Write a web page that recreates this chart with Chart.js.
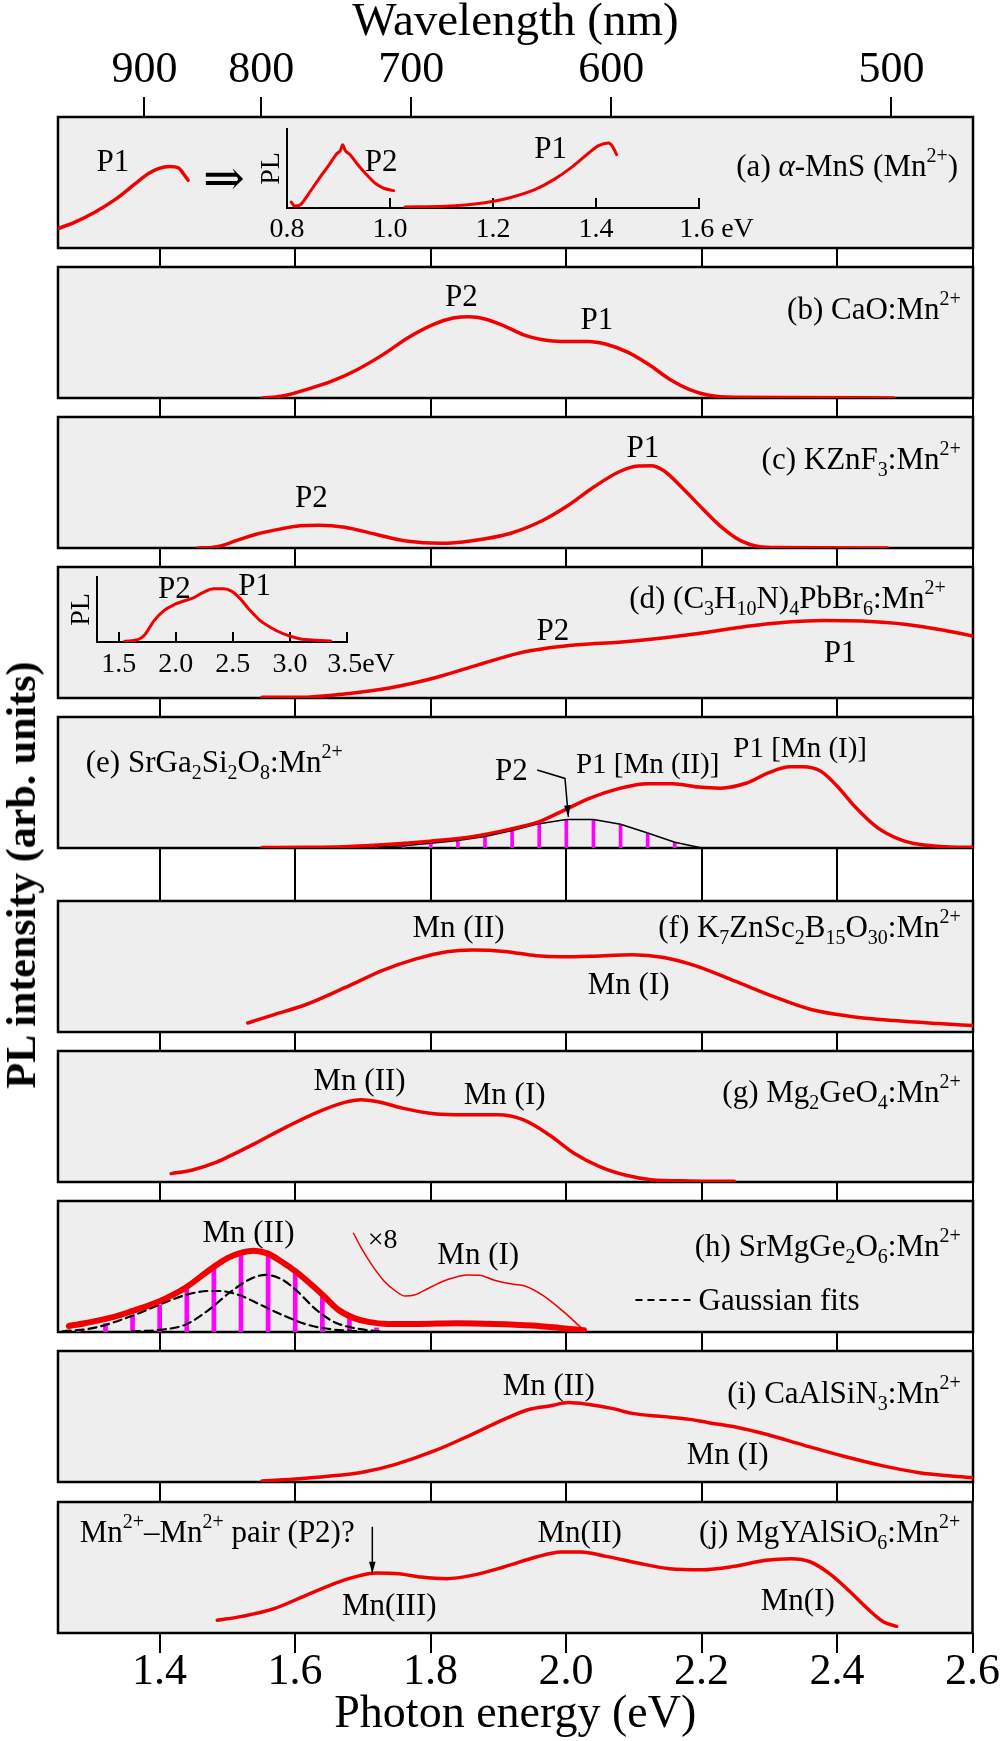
<!DOCTYPE html>
<html>
<head>
<meta charset="utf-8">
<script src="https://cdn.jsdelivr.net/npm/chart.js@4.4.0/dist/chart.umd.min.js"></script>
<style>
  body { margin: 0; background: #fff; width: 1000px; height: 1741px; position: relative; overflow: hidden; }
  canvas { position: absolute; }
  #ytitle { position: absolute; left: 21px; top: 875px; white-space: nowrap;
            font: bold 42px "Liberation Serif", serif; color: #000;
            transform: translate(-50%, -50%) rotate(-90deg); }
</style>
</head>
<body>
<script>
const SERIF = '"Liberation Serif", "DejaVu Serif", serif';
const RED = '#f20000';

// axes
const energyTicks = [1.4, 1.6, 1.8, 2.0, 2.2, 2.4, 2.6];
const energyTickLabels = ['1.4', '1.6', '1.8', '2.0', '2.2', '2.4', '2.6'];
const wavelengthTicks = [900, 800, 700, 600, 500];
const aInsetTicks = [0.8, 1.0, 1.2, 1.4, 1.6];
const aInsetTickLabels = ['0.8', '1.0', '1.2', '1.4', '     1.6 eV'];
const dInsetTicks = [1.5, 2.0, 2.5, 3.0, 3.5];
const dInsetTickLabels = ['1.5', '2.0', '2.5', '3.0', '    3.5eV'];

// (a) alpha-MnS
const aE = [1.250, 1.275, 1.305, 1.334, 1.364, 1.383, 1.398, 1.415, 1.428, 1.435, 1.442];
const aI = [0.148, 0.198, 0.275, 0.369, 0.491, 0.567, 0.606, 0.623, 0.611, 0.567, 0.517];
const aInsP2E = [0.808, 0.815, 0.826, 0.842, 0.862, 0.881, 0.897, 0.904, 0.908, 0.913, 0.923, 0.936, 0.952, 0.972, 0.988, 1.007];
const aInsP2I = [0.076, 0.025, 0.042, 0.18, 0.37, 0.54, 0.69, 0.73, 0.80, 0.73, 0.67, 0.56, 0.44, 0.31, 0.25, 0.22];
const aInsP1E = [1.029, 1.107, 1.181, 1.231, 1.281, 1.318, 1.355, 1.386, 1.405, 1.424, 1.432, 1.440];
const aInsP1I = [0.013, 0.021, 0.063, 0.127, 0.232, 0.359, 0.527, 0.696, 0.789, 0.823, 0.781, 0.675];

// (b) CaO
const bE = [1.551, 1.579, 1.616, 1.654, 1.692, 1.730, 1.767, 1.805, 1.833, 1.857, 1.880, 1.908, 1.937, 1.965, 1.993, 2.031, 2.059, 2.092, 2.125, 2.153, 2.182, 2.210, 2.248, 2.342, 2.483];
const bI = [0, 0.013, 0.064, 0.128, 0.218, 0.333, 0.462, 0.564, 0.61, 0.621, 0.603, 0.551, 0.482, 0.444, 0.431, 0.431, 0.41, 0.346, 0.244, 0.141, 0.064, 0.021, 0.005, 0.003, 0];

// (c) KZnF3
const cE = [1.456, 1.485, 1.513, 1.541, 1.579, 1.607, 1.635, 1.673, 1.720, 1.767, 1.814, 1.861, 1.918, 1.965, 2.003, 2.041, 2.078, 2.106, 2.125, 2.144, 2.172, 2.201, 2.229, 2.257, 2.285, 2.314, 2.474];
const cI = [0, 0.01, 0.056, 0.103, 0.146, 0.169, 0.174, 0.159, 0.103, 0.051, 0.036, 0.056, 0.113, 0.21, 0.326, 0.467, 0.582, 0.626, 0.628, 0.59, 0.454, 0.3, 0.159, 0.056, 0.01, 0.003, 0];

// (d) (C3H10N)4PbBr6
const dE = [1.551, 1.607, 1.673, 1.739, 1.805, 1.871, 1.927, 1.975, 2.022, 2.078, 2.135, 2.200, 2.267, 2.323, 2.380, 2.436, 2.502, 2.559, 2.601];
const dI = [0.005, 0.005, 0.031, 0.077, 0.153, 0.255, 0.339, 0.383, 0.408, 0.426, 0.454, 0.497, 0.548, 0.579, 0.592, 0.587, 0.561, 0.515, 0.472];
const dInsE = [1.552, 1.668, 1.725, 1.812, 1.899, 1.986, 2.072, 2.159, 2.246, 2.332, 2.419, 2.491, 2.564, 2.650, 2.737, 2.824, 2.939, 3.084, 3.228, 3.358];
const dInsI = [0.01, 0.036, 0.103, 0.333, 0.487, 0.574, 0.631, 0.682, 0.769, 0.82, 0.82, 0.779, 0.667, 0.487, 0.333, 0.231, 0.128, 0.051, 0.026, 0.015];

// (e) SrGa2Si2O8
const eE = [1.551, 1.607, 1.671, 1.735, 1.799, 1.863, 1.914, 1.959, 1.997, 2.035, 2.080, 2.119, 2.157, 2.195, 2.227, 2.266, 2.298, 2.330, 2.349, 2.375, 2.400, 2.426, 2.458, 2.490, 2.522, 2.560, 2.598];
const eI = [0.003, 0.005, 0.01, 0.026, 0.052, 0.088, 0.14, 0.199, 0.289, 0.38, 0.457, 0.491, 0.491, 0.465, 0.457, 0.496, 0.574, 0.62, 0.62, 0.587, 0.47, 0.315, 0.16, 0.07, 0.026, 0.01, 0.005];
const eBarE = [1.72, 1.76, 1.80, 1.84, 1.88, 1.92, 1.96, 2.00, 2.04, 2.08, 2.12, 2.16];
const eBarI = [0.01, 0.018, 0.036, 0.057, 0.088, 0.134, 0.186, 0.217, 0.217, 0.181, 0.114, 0.044];
const eFitE = [1.68, 1.72, 1.76, 1.80, 1.84, 1.88, 1.92, 1.96, 2.00, 2.04, 2.08, 2.12, 2.16, 2.20];
const eFitI = [0, 0.01, 0.018, 0.036, 0.057, 0.088, 0.134, 0.186, 0.217, 0.217, 0.181, 0.114, 0.044, 0];

// (f) K7ZnSc2B15O30
const fE = [1.530, 1.569, 1.616, 1.673, 1.730, 1.777, 1.824, 1.861, 1.909, 1.956, 1.993, 2.040, 2.097, 2.144, 2.191, 2.248, 2.304, 2.361, 2.417, 2.483, 2.549, 2.601];
const fI = [0.069, 0.133, 0.21, 0.338, 0.472, 0.556, 0.613, 0.626, 0.615, 0.582, 0.574, 0.579, 0.59, 0.569, 0.505, 0.39, 0.274, 0.172, 0.121, 0.087, 0.064, 0.049];

// (g) Mg2GeO4
const gE = [1.417, 1.447, 1.485, 1.503, 1.541, 1.588, 1.635, 1.673, 1.697, 1.720, 1.758, 1.805, 1.852, 1.899, 1.937, 1.975, 2.012, 2.050, 2.088, 2.125, 2.182, 2.248];
const gI = [0.064, 0.09, 0.154, 0.197, 0.295, 0.423, 0.538, 0.608, 0.628, 0.615, 0.564, 0.521, 0.513, 0.513, 0.474, 0.359, 0.218, 0.115, 0.051, 0.018, 0.008, 0.005];

// (h) SrMgGe2O6
const hE = [1.266, 1.291, 1.331, 1.359, 1.398, 1.438, 1.477, 1.500, 1.522, 1.539, 1.559, 1.579, 1.601, 1.624, 1.641, 1.663, 1.686, 1.708, 1.736, 1.781, 1.838, 1.894, 1.950, 1.990, 2.026];
const hI = [0.046, 0.069, 0.113, 0.159, 0.231, 0.338, 0.487, 0.564, 0.608, 0.621, 0.6, 0.54, 0.46, 0.36, 0.28, 0.172, 0.108, 0.077, 0.062, 0.062, 0.067, 0.062, 0.049, 0.031, 0.013];
const h8E = [1.686, 1.697, 1.714, 1.731, 1.748, 1.762, 1.776, 1.798, 1.826, 1.855, 1.872, 1.894, 1.922, 1.939, 1.967, 1.995, 2.026];
const h8I = [0.754, 0.646, 0.505, 0.39, 0.313, 0.274, 0.282, 0.338, 0.403, 0.436, 0.433, 0.395, 0.364, 0.351, 0.274, 0.159, 0.013];
const hG1E = [1.257, 1.303, 1.359, 1.398, 1.438, 1.472, 1.488, 1.517, 1.550, 1.584, 1.618, 1.652, 1.697];
const hG1I = [0.005, 0.031, 0.123, 0.205, 0.282, 0.313, 0.313, 0.282, 0.205, 0.123, 0.056, 0.021, 0.005];
const hG2E = [1.359, 1.404, 1.438, 1.472, 1.505, 1.534, 1.556, 1.579, 1.601, 1.629, 1.657, 1.691, 1.725];
const hG2I = [0.005, 0.018, 0.056, 0.167, 0.308, 0.405, 0.436, 0.405, 0.321, 0.179, 0.077, 0.026, 0.005];
const hBarE = [1.28, 1.32, 1.36, 1.40, 1.44, 1.48, 1.52, 1.56, 1.60, 1.64, 1.68, 1.72];
const hBarI = [0.01, 0.064, 0.128, 0.205, 0.354, 0.497, 0.595, 0.595, 0.479, 0.292, 0.128, 0.031];

// (i) CaAlSiN3
const iE = [1.551, 1.607, 1.664, 1.701, 1.748, 1.805, 1.861, 1.908, 1.946, 1.975, 2.003, 2.031, 2.069, 2.097, 2.144, 2.182, 2.210, 2.248, 2.295, 2.351, 2.408, 2.464, 2.521, 2.568, 2.601];
const iI = [0.008, 0.025, 0.051, 0.076, 0.135, 0.237, 0.364, 0.478, 0.555, 0.58, 0.606, 0.593, 0.56, 0.524, 0.499, 0.478, 0.453, 0.422, 0.364, 0.28, 0.198, 0.127, 0.071, 0.046, 0.033];

// (j) MgYAlSiO6
const jE = [1.485, 1.522, 1.569, 1.616, 1.664, 1.697, 1.720, 1.753, 1.786, 1.824, 1.861, 1.908, 1.956, 1.993, 2.022, 2.059, 2.106, 2.153, 2.201, 2.248, 2.295, 2.332, 2.361, 2.389, 2.417, 2.445, 2.469, 2.488];
const jI = [0.097, 0.127, 0.186, 0.288, 0.389, 0.44, 0.458, 0.453, 0.427, 0.415, 0.44, 0.504, 0.58, 0.618, 0.618, 0.585, 0.534, 0.491, 0.483, 0.509, 0.555, 0.567, 0.542, 0.453, 0.326, 0.186, 0.084, 0.051];

const PANEL_H = 131;

Chart.defaults.font.family = SERIF;
Chart.defaults.color = '#000';

function pts(E, I) {
  return E.map(function (e, k) { return { x: e, y: I[k] }; });
}

function line(E, I, w, extra) {
  return Object.assign({
    type: 'line', data: pts(E, I), borderColor: RED, borderWidth: w || 3.5,
    pointRadius: 0, fill: false, cubicInterpolationMode: 'monotone',
    borderCapStyle: 'round', borderJoinStyle: 'round'
  }, extra || {});
}

function bars(E, I, w) {
  return { type: 'bar', data: pts(E, I), backgroundColor: '#ff00ff', borderWidth: 0,
           barThickness: w, grouped: false };
}

// text with ^{sup}, _{sub} and *italic*
function parseRich(s) {
  const parts = [];
  const re = /\^\{([^}]*)\}|_\{([^}]*)\}|\*([^*]*)\*/g;
  let last = 0, m;
  while ((m = re.exec(s))) {
    if (m.index > last) parts.push({ t: s.slice(last, m.index), k: 'n' });
    if (m[1] !== undefined) parts.push({ t: m[1], k: 'sup' });
    else if (m[2] !== undefined) parts.push({ t: m[2], k: 'sub' });
    else parts.push({ t: m[3], k: 'i' });
    last = re.lastIndex;
  }
  if (last < s.length) parts.push({ t: s.slice(last), k: 'n' });
  return parts;
}

function drawRich(ctx, s, x, y, align, size) {
  const parts = parseRich(s);
  const fontOf = function (k) {
    const sz = (k === 'sup' || k === 'sub') ? Math.round(size * 0.64) : size;
    return (k === 'i' ? 'italic ' : '') + sz + 'px ' + SERIF;
  };
  let w = 0;
  parts.forEach(function (p) { ctx.font = fontOf(p.k); p.w = ctx.measureText(p.t).width; w += p.w; });
  let cx = align === 'right' ? x - w : (align === 'center' ? x - w / 2 : x);
  const base = y + size * 0.33;
  ctx.textAlign = 'left';
  ctx.textBaseline = 'alphabetic';
  ctx.fillStyle = '#000';
  parts.forEach(function (p) {
    ctx.font = fontOf(p.k);
    const dy = p.k === 'sup' ? -size * 0.45 : (p.k === 'sub' ? size * 0.22 : 0);
    ctx.fillText(p.t, cx, base + dy);
    cx += p.w;
  });
}

// grey box, frame, labels and arrows of each panel
const panelDeco = {
  id: 'panelDeco',
  beforeDraw: function (chart, args, opts) {
    if (!opts.box) return;
    const a = chart.chartArea, ctx = chart.ctx;
    ctx.save();
    ctx.fillStyle = '#eeeeee';
    ctx.fillRect(a.left, a.top, a.right - a.left, a.bottom - a.top);
    ctx.restore();
  },
  beforeDatasetsDraw: function (chart, args, opts) {
    if (!opts.box) return;
    const a = chart.chartArea, ctx = chart.ctx;
    ctx.save();
    ctx.strokeStyle = '#000';
    ctx.lineWidth = 2.5;
    ctx.strokeRect(a.left, a.top, a.right - a.left, a.bottom - a.top);
    ctx.restore();
  },
  afterDraw: function (chart, args, opts) {
    const ctx = chart.ctx, sx = chart.scales.x, sy = chart.scales.y;
    ctx.save();
    (opts.arrows || []).forEach(function (path) {
      const p = path.map(function (q) { return [sx.getPixelForValue(q[0]), sy.getPixelForValue(q[1])]; });
      ctx.strokeStyle = '#000';
      ctx.lineWidth = 1.5;
      ctx.beginPath();
      p.forEach(function (q, k) { if (k) ctx.lineTo(q[0], q[1]); else ctx.moveTo(q[0], q[1]); });
      ctx.stroke();
      const p1 = p[p.length - 2], p2 = p[p.length - 1];
      const ang = Math.atan2(p2[1] - p1[1], p2[0] - p1[0]);
      ctx.beginPath();
      ctx.moveTo(p2[0], p2[1]);
      ctx.lineTo(p2[0] - 12 * Math.cos(ang - 0.28), p2[1] - 12 * Math.sin(ang - 0.28));
      ctx.lineTo(p2[0] - 12 * Math.cos(ang + 0.28), p2[1] - 12 * Math.sin(ang + 0.28));
      ctx.closePath();
      ctx.fillStyle = '#000';
      ctx.fill();
    });
    if (opts.key) {
      const k = opts.key, y = sy.getPixelForValue(k.y);
      ctx.strokeStyle = '#000';
      ctx.lineWidth = 2;
      ctx.setLineDash([7, 5]);
      ctx.beginPath();
      ctx.moveTo(sx.getPixelForValue(k.x1), y);
      ctx.lineTo(sx.getPixelForValue(k.x2), y);
      ctx.stroke();
      ctx.setLineDash([]);
      drawRich(ctx, k.text, sx.getPixelForValue(k.tx), y, 'left', 31);
    }
    (opts.labels || []).forEach(function (l) {
      drawRich(ctx, l.t, sx.getPixelForValue(l.x), sy.getPixelForValue(l.y), l.align || 'center', l.size || 31);
    });
    ctx.restore();
  }
};
Chart.register(panelDeco);

function addCanvas(left, top, w, h) {
  const cv = document.createElement('canvas');
  cv.width = w; cv.height = h;
  cv.style.left = left + 'px';
  cv.style.top = top + 'px';
  document.body.appendChild(cv);
  return cv;
}

function panel(p) {
  const topH = p.first ? 117 : p.tt;
  const botH = p.last ? 108 : p.bt;
  const cv = addCanvas(0, p.top - topH, 1000, topH + PANEL_H + botH);
  new Chart(cv, {
    type: 'line',
    data: { datasets: p.ds },
    options: {
      responsive: false, animation: false, devicePixelRatio: 1, events: [],
      layout: { padding: { left: 58, right: 27, top: 0, bottom: 0 } },
      plugins: { legend: { display: false }, tooltip: { enabled: false },
                 panelDeco: Object.assign({ box: true }, p.deco) },
      scales: {
        x: {
          type: 'linear', position: 'bottom', min: 1.25, max: 2.6, offset: false,
          afterBuildTicks: function (ax) { ax.ticks = energyTicks.map(function (v) { return { value: v }; }); },
          afterFit: function (ax) { ax.height = botH; },
          ticks: { display: !!p.last, autoSkip: false, maxRotation: 0, padding: 0,
                   font: { size: 44, lineHeight: 0.9 }, color: '#000',
                   callback: function (v, k) { return energyTickLabels[k]; } },
          grid: { drawOnChartArea: false, drawTicks: true, offset: false,
                  tickLength: p.last ? 20 : p.bt, color: '#000', lineWidth: 2 },
          border: { display: false },
          title: { display: !!p.last, text: 'Photon energy (eV)', color: '#000',
                   font: { size: 46, lineHeight: 1.13 }, padding: 0 }
        },
        x2: {
          type: 'linear', position: 'top', min: 1.25, max: 2.6, offset: false,
          afterBuildTicks: function (ax) {
            ax.ticks = p.first
              ? wavelengthTicks.map(function (w) { return { value: 1239.84 / w }; })
              : energyTicks.map(function (v) { return { value: v }; });
          },
          afterFit: function (ax) { ax.height = topH; },
          ticks: { display: !!p.first, autoSkip: false, maxRotation: 0, padding: 0,
                   font: { size: 44, lineHeight: 1.2 }, color: '#000',
                   callback: function (v, k) { return String(wavelengthTicks[k]); } },
          grid: { drawOnChartArea: false, drawTicks: true, offset: false,
                  tickLength: p.first ? 20 : p.tt, color: '#000', lineWidth: 2 },
          border: { display: false },
          title: { display: !!p.first, text: 'Wavelength (nm)', color: '#000',
                   font: { size: 47, lineHeight: 0.98 }, padding: 0 }
        },
        y: { display: false, min: 0, max: 1 }
      }
    }
  });
}

// small inset axes; right padding leaves room for the "eV" label
function inset(q) {
  const cv = addCanvas(q.left, q.top, q.w + 110, q.h);
  new Chart(cv, {
    type: 'line',
    data: { datasets: q.ds },
    options: {
      responsive: false, animation: false, devicePixelRatio: 1, events: [],
      layout: { padding: { left: 0, right: 110, top: 8, bottom: 0 } },
      plugins: { legend: { display: false }, tooltip: { enabled: false },
                 panelDeco: { box: false, labels: q.labels } },
      scales: {
        x: {
          type: 'linear', position: 'bottom', min: q.min, max: q.max, offset: false,
          afterBuildTicks: function (ax) { ax.ticks = q.ticks.map(function (v) { return { value: v }; }); },
          afterFit: function (ax) { ax.height = 45; },
          ticks: { autoSkip: false, maxRotation: 0, padding: q.pad, font: { size: 28, lineHeight: 1.2 },
                   color: '#000', callback: function (v, k) { return q.tickLabels[k]; } },
          grid: { drawOnChartArea: false, drawTicks: true, tickLength: -10, color: '#000', lineWidth: 2 },
          border: { display: true, color: '#000', width: 2 }
        },
        y: {
          min: 0, max: 1,
          afterFit: function (ax) { ax.width = 40; },
          ticks: { display: false },
          grid: { drawOnChartArea: false, drawTicks: false },
          border: { display: true, color: '#000', width: 2 },
          title: { display: true, text: 'PL', color: '#000', font: { size: 28, lineHeight: 1.2 },
                   padding: { top: 8, bottom: 0 } }
        }
      }
    }
  });
}

const RIGHT = 2.582;

panel({ top: 117, tt: 20, bt: 10, first: true,
  ds: [line(aE, aI)],
  deco: { labels: [
    { t: 'P1', x: 1.331, y: 0.664 },
    { t: '\u21d2', x: 1.495, y: 0.534, size: 50 },
    { t: '(a) *\u03b1*-MnS (Mn^{2+})', x: 2.578, y: 0.626, align: 'right' }
  ] } });

panel({ top: 267, tt: 10, bt: 10,
  ds: [line(bE, bI)],
  deco: { labels: [
    { t: 'P2', x: 1.845, y: 0.779 },
    { t: 'P1', x: 2.045, y: 0.603 },
    { t: '(b) CaO:Mn^{2+}', x: RIGHT, y: 0.679, align: 'right' }
  ] } });

panel({ top: 417, tt: 10, bt: 10,
  ds: [line(cE, cI)],
  deco: { labels: [
    { t: 'P2', x: 1.624, y: 0.389 },
    { t: 'P1', x: 2.113, y: 0.771 },
    { t: '(c) KZnF_{3}:Mn^{2+}', x: RIGHT, y: 0.679, align: 'right' }
  ] } });

panel({ top: 567, tt: 10, bt: 10,
  ds: [line(dE, dI)],
  deco: { labels: [
    { t: 'P2', x: 1.980, y: 0.519 },
    { t: 'P1', x: 2.404, y: 0.351 },
    { t: '(d) (C_{3}H_{10}N)_{4}PbBr_{6}:Mn^{2+}', x: 2.560, y: 0.763, align: 'right' }
  ] } });

panel({ top: 717, tt: 10, bt: 27,
  ds: [line(eE, eI),
       line(eFitE, eFitI, 1.5, { borderColor: '#000', cubicInterpolationMode: 'default', tension: 0 }),
       bars(eBarE, eBarI, 3)],
  deco: {
    labels: [
      { t: '(e) SrGa_{2}Si_{2}O_{8}:Mn^{2+}', x: 1.291, y: 0.656, align: 'left' },
      { t: 'P2', x: 1.919, y: 0.595 },
      { t: 'P1 [Mn (II)]', x: 2.120, y: 0.649, size: 29 },
      { t: 'P1 [Mn (I)]', x: 2.345, y: 0.771, size: 29 }
    ],
    arrows: [[[1.957, 0.595], [1.998, 0.531], [2.003, 0.238]]]
  } });

panel({ top: 901, tt: 27, bt: 10,
  ds: [line(fE, fI)],
  deco: { labels: [
    { t: 'Mn (II)', x: 1.841, y: 0.802 },
    { t: 'Mn (I)', x: 2.092, y: 0.366 },
    { t: '(f) K_{7}ZnSc_{2}B_{15}O_{30}:Mn^{2+}', x: RIGHT, y: 0.802, align: 'right' }
  ] } });

panel({ top: 1051, tt: 10, bt: 10,
  ds: [line(gE, gI)],
  deco: { labels: [
    { t: 'Mn (II)', x: 1.695, y: 0.779 },
    { t: 'Mn (I)', x: 1.909, y: 0.672 },
    { t: '(g) Mg_{2}GeO_{4}:Mn^{2+}', x: RIGHT, y: 0.687, align: 'right' }
  ] } });

panel({ top: 1201, tt: 10, bt: 10,
  ds: [line(hE, hI, 6),
       line(h8E, h8I, 1.5),
       line(hG1E, hG1I, 2.2, { borderColor: '#000', borderDash: [8, 5] }),
       line(hG2E, hG2I, 2.2, { borderColor: '#000', borderDash: [8, 5] }),
       bars(hBarE, hBarI, 4)],
  deco: {
    labels: [
      { t: 'Mn (II)', x: 1.531, y: 0.763 },
      { t: '\u00d78', x: 1.729, y: 0.71, size: 28 },
      { t: 'Mn (I)', x: 1.870, y: 0.595 },
      { t: '(h) SrMgGe_{2}O_{6}:Mn^{2+}', x: RIGHT, y: 0.656, align: 'right' }
    ],
    key: { x1: 2.102, x2: 2.187, tx: 2.195, y: 0.244, text: 'Gaussian fits' }
  } });

panel({ top: 1351, tt: 10, bt: 10,
  ds: [line(iE, iI)],
  deco: { labels: [
    { t: 'Mn (II)', x: 1.974, y: 0.74 },
    { t: 'Mn (I)', x: 2.238, y: 0.214 },
    { t: '(i) CaAlSiN_{3}:Mn^{2+}', x: RIGHT, y: 0.683, align: 'right' }
  ] } });

panel({ top: 1502, tt: 10, bt: 20, last: true,
  ds: [line(jE, jI)],
  deco: {
    labels: [
      { t: 'Mn^{2+}\u2013Mn^{2+} pair (P2)?', x: 1.282, y: 0.771, align: 'left' },
      { t: 'Mn(II)', x: 2.020, y: 0.771 },
      { t: '(j) MgYAlSiO_{6}:Mn^{2+}', x: RIGHT, y: 0.771, align: 'right' },
      { t: 'Mn(III)', x: 1.739, y: 0.214 },
      { t: 'Mn(I)', x: 2.342, y: 0.252 }
    ],
    arrows: [[[1.714, 0.811], [1.714, 0.456]]]
  } });

// insets of (a) and (d)
inset({ left: 247, top: 121, w: 452, h: 132, min: 0.8, max: 1.6, pad: 15,
  ticks: aInsetTicks, tickLabels: aInsetTickLabels,
  ds: [line(aInsP2E, aInsP2I, 3), line(aInsP1E, aInsP1I, 3)],
  labels: [{ t: 'P2', x: 0.983, y: 0.593 }, { t: 'P1', x: 1.312, y: 0.759 }] });

inset({ left: 57, top: 569, w: 290, h: 118, min: 1.31, max: 3.5, pad: 16,
  ticks: dInsetTicks, tickLabels: dInsetTickLabels,
  ds: [line(dInsE, dInsI, 3)],
  labels: [{ t: 'P2', x: 1.987, y: 0.84 }, { t: 'P1', x: 2.691, y: 0.887 }] });
</script>
<div id="ytitle">PL intensity (arb. units)</div>
</body>
</html>
